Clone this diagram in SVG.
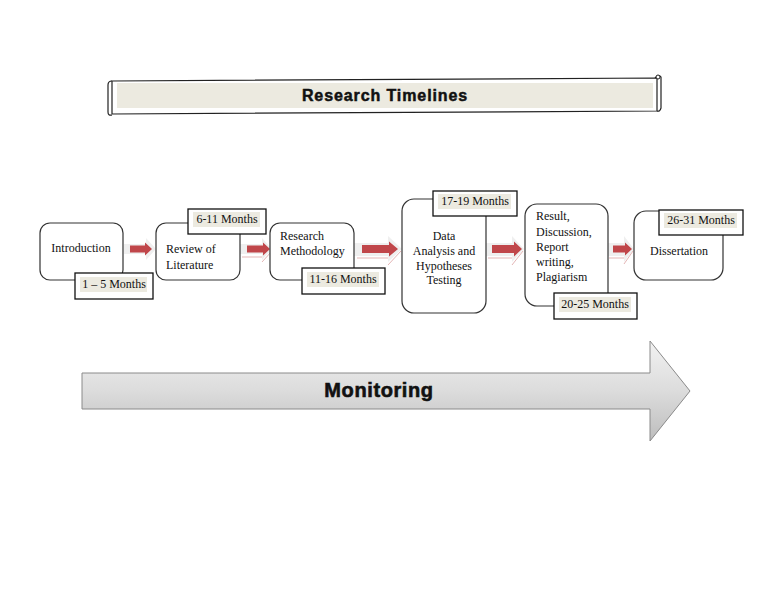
<svg xmlns="http://www.w3.org/2000/svg" width="768" height="594" viewBox="0 0 768 594">
<style>
.node{fill:#fff;stroke:#333;stroke-width:1.2}
.lbl{fill:#fff;stroke:#111;stroke-width:1.3}
.lblbg{fill:#ECEAE0}
.t{font-family:"Liberation Serif","Times New Roman",serif;font-size:12px;fill:#111}
.tc{text-anchor:middle}
.arr{fill:#C0464A}
.sh{fill:#EFEFEF}
.shl{stroke:#E3B5B5;stroke-width:1;fill:none}
.hv{font-family:"Liberation Sans",Arial,sans-serif;font-weight:bold;fill:#111;stroke:#111;text-anchor:middle}
</style>
<defs>
<linearGradient id="g" x1="0" y1="0" x2="0" y2="1">
<stop offset="0" stop-color="#F2F2F2"/>
<stop offset="0.5" stop-color="#DCDCDC"/>
<stop offset="1" stop-color="#BDBDBD"/>
</linearGradient>
</defs>
<rect width="768" height="594" fill="#fff"/>

<g id="banner">
<path d="M112,81 L657,78 L657,111 L112,114 Z" fill="#fff" stroke="#222" stroke-width="1.2"/>
<rect x="117" y="83" width="536" height="25" fill="#ECEAE0"/>
<path d="M112,81 Q108,81 108,85 L108,112 Q108,116 112,115" fill="none" stroke="#222" stroke-width="1.2"/>
<path d="M655,78 Q659,74 661,77 L661,108 Q660,112 657,111" fill="none" stroke="#222" stroke-width="1.2"/>
<circle cx="658" cy="77" r="2" fill="#fff" stroke="#222" stroke-width="1"/>
<text class="hv" x="385" y="101" font-size="16" letter-spacing="0.9" stroke-width="0.5">Research Timelines</text>
</g>

<g id="connectors">
<g id="c1">
<path class="sh" d="M124,244 L146,244 L146,238 L156,249 L146,260 L146,254 L124,254 Z"/>
<path class="arr" d="M130,245.5 L145,245.5 L145,242.5 L152,249 L145,255.5 L145,252.5 L130,252.5 Z"/>
</g>
<g id="c2">
<path class="sh" d="M240,244 L262,244 L262,238 L272,249 L262,260 L262,254 L240,254 Z"/>
<path class="arr" d="M247,245.5 L263,245.5 L263,242.5 L270,249 L263,255.5 L263,252.5 L247,252.5 Z"/>
<path class="shl" d="M242,257 L262,257 M262,262 L272,251"/>
</g>
<g id="c3">
<path class="sh" d="M354,243 L388,243 L388,236 L402,249 L388,262 L388,256 L354,256 Z"/>
<path class="arr" d="M362,245 L389,245 L389,241.5 L398,249 L389,256.5 L389,253 L362,253 Z"/>
<path class="shl" d="M357,258 L388,258 M388,265 L401,251"/>
</g>
<g id="c4">
<path class="sh" d="M486,243 L512,243 L512,236 L524,249 L512,262 L512,256 L486,256 Z"/>
<path class="arr" d="M492,245 L514,245 L514,241.5 L522,249 L514,256.5 L514,253 L492,253 Z"/>
<path class="shl" d="M488,258 L512,258 M512,265 L523,251"/>
</g>
<g id="c5">
<path class="sh" d="M608,243 L624,243 L624,236 L634,249 L624,262 L624,256 L608,256 Z"/>
<path class="arr" d="M613,245.5 L625,245.5 L625,242.5 L632,249 L625,255.5 L625,252.5 L613,252.5 Z"/>
<path class="shl" d="M609,258 L624,258 M624,264 L633,251"/>
</g>
</g>

<g id="n1">
<rect class="node" x="40" y="223" width="83" height="57" rx="10"/>
<text class="t tc" x="81" y="252">Introduction</text>
<rect class="lbl" x="75" y="273" width="78" height="26"/>
<rect class="lblbg" x="80" y="277" width="67" height="15"/>
<text class="t tc" x="114" y="288">1 – 5 Months</text>
</g>

<g id="n2">
<rect class="node" x="156" y="223" width="84" height="57" rx="10"/>
<text class="t" x="166" y="253">Review of</text>
<text class="t" x="166" y="269">Literature</text>
<rect class="lbl" x="188" y="209" width="78" height="25"/>
<rect class="lblbg" x="193" y="212" width="67" height="15"/>
<text class="t tc" x="227" y="223">6-11 Months</text>
</g>

<g id="n3">
<rect class="node" x="270" y="223" width="84" height="57" rx="10"/>
<text class="t" x="280" y="240">Research</text>
<text class="t" x="280" y="255">Methodology</text>
<rect class="lbl" x="302" y="268" width="83" height="26"/>
<rect class="lblbg" x="307" y="272" width="72" height="15"/>
<text class="t tc" x="343" y="283">11-16 Months</text>
</g>

<g id="n4">
<rect class="node" x="402" y="199" width="84" height="114" rx="12"/>
<text class="t tc" x="444" y="240">Data</text>
<text class="t tc" x="444" y="255">Analysis and</text>
<text class="t tc" x="444" y="270">Hypotheses</text>
<text class="t tc" x="444" y="284">Testing</text>
<rect class="lbl" x="433" y="191" width="84" height="25"/>
<rect class="lblbg" x="438" y="194" width="73" height="15"/>
<text class="t tc" x="475" y="205">17-19 Months</text>
</g>

<g id="n5">
<rect class="node" x="525" y="204" width="83" height="102" rx="12"/>
<text class="t" x="536" y="220">Result,</text>
<text class="t" x="536" y="236">Discussion,</text>
<text class="t" x="536" y="251">Report</text>
<text class="t" x="536" y="266">writing,</text>
<text class="t" x="536" y="281">Plagiarism</text>
<rect class="lbl" x="554" y="293" width="83" height="26"/>
<rect class="lblbg" x="559" y="297" width="72" height="15"/>
<text class="t tc" x="595" y="308">20-25 Months</text>
</g>

<g id="n6">
<rect class="node" x="634" y="211" width="89" height="69" rx="12"/>
<text class="t" x="650" y="255">Dissertation</text>
<rect class="lbl" x="659" y="210" width="84" height="25"/>
<rect class="lblbg" x="664" y="213" width="73" height="15"/>
<text class="t tc" x="701" y="224">26-31 Months</text>
</g>

<g id="monitoring">
<path d="M82,373 L650,373 L650,341 L690,391 L650,441 L650,409 L82,409 Z" fill="url(#g)" stroke="#8A8A8A" stroke-width="1"/>
<text class="hv" x="379" y="397" font-size="20" letter-spacing="0.6" stroke-width="0.6">Monitoring</text>
</g>
</svg>
